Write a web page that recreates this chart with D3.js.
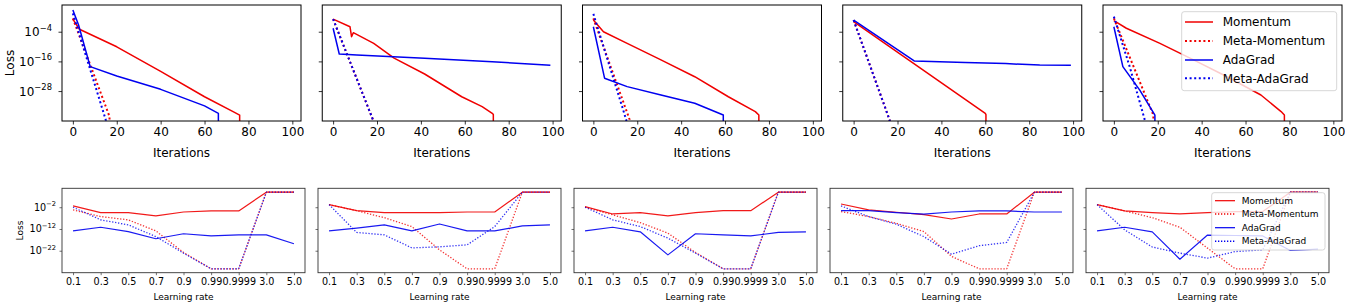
<!DOCTYPE html>
<html><head><meta charset="utf-8">
<script src="https://cdn.jsdelivr.net/npm/d3@7"></script>
<style>
body{margin:0;background:#fff}
svg{display:block}
text{font-family:"DejaVu Sans",sans-serif;fill:#000}
</style>
</head><body>
<svg id="chart" width="1345" height="302"></svg>
<script>
// ---------------- data ----------------
const seriesNames = ["Momentum", "Meta-Momentum", "AdaGrad", "Meta-AdaGrad"];
const iterTicks = [0, 20, 40, 60, 80, 100];
const topLossTicks = [1e-4, 1e-16, 1e-28];
const lrLabels = ["0.1", "0.3", "0.5", "0.7", "0.9", "0.99", "0.9999", "3.0", "5.0"];
const bottomLossTicks = [1e-2, 1e-12, 1e-22];

// top row: [iteration, log10(loss)] per panel; null = loss reached exactly 0
const topMomentum = [
  [[0,1.1],[3,-3.0],[20,-10.1],[40,-20.0],[60,-30.3],[73,-36.3],[76,-37.7],[76,null]],
  [[0,1.1],[7.7,-2.0],[8.4,-6.0],[9.2,-4.4],[18.5,-8.7],[27.8,-14.7],[41.7,-21.1],[58.6,-30.3],[67.9,-34.3],[72.5,-37.0],[73,-37.5],[73,null]],
  [[0,0.7],[4.6,-4.0],[15.4,-8.7],[30.8,-15.4],[46.2,-22.2],[61.5,-30.3],[73.8,-36.3],[75.4,-37.7],[75.4,null]],
  [[0,0.05],[60,-37.0],[60.3,-37.5],[60.3,null]],
  [[0,0.45],[5.7,-2.6],[21,-8.7],[36.3,-15.4],[51.6,-22.2],[67,-29.6],[76.2,-36.3],[77.7,-37.7],[77.7,null]]
];
const topMetaMomentum = [
  [[0,1.4],[16.7,-38.3],[16.7,null]],
  [[0,1.1],[18.2,-39.7],[18.2,null]],
  [[0,1.4],[16.5,-39.5],[16.5,null]],
  [[0,0.7],[16.4,-39.7],[16.4,null]],
  [[0,1.4],[18,-37.7],[18,null]]
];
const topAdaGrad = [
  [[0,4.77],[2.6,-1.3],[7.9,-18.1],[20,-21.9],[40,-27.3],[60,-34.0],[66.3,-37.0],[66.3,null]],
  [[0,-2.6],[2.8,-13.0],[10.8,-13.4],[41.7,-14.7],[72.5,-16.1],[99,-17.6]],
  [[0,-2.0],[5.1,-22.8],[15.4,-26.2],[30.8,-29.6],[46.2,-32.9],[59.2,-37.7],[59.2,null]],
  [[0,0.7],[27.6,-15.8],[50.8,-16.4],[69.3,-16.9],[84.8,-17.5],[99,-17.6]],
  [[0,-2.0],[4.1,-18.1],[11.8,-27.6],[18.7,-37.7],[18.7,null]]
];
const topMetaAdaGrad = [
  [[0,3.4],[15,-39.7],[15,null]],
  [[0,1.1],[18.2,-39.7],[18.2,null]],
  [[0,3.2],[15,-39.7],[15,null]],
  [[0,0.7],[16.4,-39.7],[16.4,null]],
  [[0,2.1],[7.2,-18.1],[14.1,-39.7],[14.1,null]]
];

// bottom row: log10(loss) for each learning rate, per panel
const lrMomentum = [
  [-1.4,-4.5,-4.5,-6.0,-4.2,-3.7,-3.7,4.9,4.9],
  [-0.8,-3.6,-4.5,-4.5,-4.5,-4.2,-4.2,4.9,4.9],
  [-1.7,-5.1,-4.5,-6.0,-4.5,-3.6,-3.6,4.9,4.9],
  [-0.5,-3.2,-4.3,-5.4,-7.4,-5.1,-5.1,4.9,4.9],
  [-0.8,-3.7,-4.5,-5.1,-4.5,-4.0,-4.0,4.9,4.9]
];
const lrMetaMomentum = [
  [-3.2,-6.3,-7.8,-12.9,-22.8,-30.3,-30.3,4.9,4.9],
  [-0.8,-3.6,-6.8,-10.9,-21.6,-30.3,-30.3,4.9,4.9],
  [-2.0,-5.5,-9.1,-13.9,-22.8,-30.3,-30.3,4.9,4.9],
  [-4.0,-6.3,-9.4,-13.2,-24.6,-30.3,-30.3,4.9,4.9],
  [-0.8,-3.7,-6.8,-11.2,-20.8,-30.3,-30.3,4.9,4.9]
];
const lrAdaGrad = [
  [-12.9,-11.2,-13.2,-16.5,-14.2,-15.2,-14.7,-14.7,-18.8],
  [-12.9,-11.6,-10.1,-12.9,-9.7,-12.9,-12.9,-10.6,-10.1],
  [-12.9,-11.2,-13.3,-23.9,-14.2,-14.7,-15.2,-13.6,-13.3],
  [-3.6,-3.6,-4.5,-5.2,-4.2,-3.7,-3.7,-4.2,-4.2],
  [-12.9,-11.2,-13.3,-25.9,-14.8,-15.0,-15.2,-21.9,-21.3]
];
const lrMetaAdaGrad = [
  [-2.0,-7.8,-10.1,-15.5,-23.1,-30.3,-30.3,4.9,4.9],
  [-0.8,-13.6,-14.7,-20.7,-20.2,-19.3,-10.9,4.9,4.9],
  [-2.0,-7.8,-10.9,-16.2,-23.1,-30.3,-30.3,4.9,4.9],
  [-1.4,-6.3,-9.8,-15.5,-23.6,-19.7,-18.2,4.9,4.9],
  [-0.8,-12.4,-20.3,-23.1,-25.4,-22.4,-21.6,4.9,4.9]
];

// ---------------- drawing ----------------
const svg = d3.select("#chart");
const RED = "#f00000", BLUE = "#0000f0";
const styles = [
  {color: RED, dash: null},
  {color: RED, dash: "dot"},
  {color: BLUE, dash: null},
  {color: BLUE, dash: "dot"}
];

const TOP = {y0: 5, y1: 121, w: 239, lefts: [62, 322.25, 582.5, 842.75, 1103], fs: 12};
const BOT = {y0: 188.3, y1: 272.7, w: 243, lefts: [62, 318, 574, 830, 1086], fs: 9, tfs: 9.6};

const topY = d3.scaleLog().domain([Math.pow(10, -40.1), Math.pow(10, 6.8)]).range([TOP.y1, TOP.y0]);
const botY = d3.scaleLog().domain([Math.pow(10, -32.1), Math.pow(10, 6.7)]).range([BOT.y1, BOT.y0]);

function powLabel(g, x, y, exp, fs) {
  const t = g.append("text").attr("x", x).attr("y", y).attr("text-anchor", "end")
    .style("font-size", fs + "px");
  t.append("tspan").text("10");
  t.append("tspan").attr("dy", -fs * 0.45).style("font-size", (fs * 0.7) + "px").text("\u2212" + exp);
}

function drawTop(i) {
  const left = TOP.lefts[i];
  const x = d3.scaleLinear().domain([-4.95, 103.95]).range([left, left + TOP.w]);
  const g = svg.append("g");
  const cid = "clipT" + i;
  svg.append("clipPath").attr("id", cid).append("rect")
    .attr("x", left).attr("y", TOP.y0).attr("width", TOP.w).attr("height", TOP.y1 - TOP.y0);
  const data = [topMomentum[i], topMetaMomentum[i], topAdaGrad[i], topMetaAdaGrad[i]];
  const line = d3.line().x(d => x(d[0])).y(d => d[1] === null ? TOP.y1 + 40 : topY(Math.pow(10, d[1])));
  const lg = g.append("g").attr("clip-path", "url(#" + cid + ")");
  data.forEach((s, k) => {
    lg.append("path").attr("d", line(s)).attr("fill", "none")
      .attr("stroke", styles[k].color).attr("stroke-width", styles[k].dash ? 2 : 1.5)
      .attr("stroke-dasharray", styles[k].dash ? "2,2.6" : null)
      .attr("stroke-linejoin", "round");
  });
  const xa = g.append("g").attr("transform", `translate(0,${TOP.y1})`)
    .call(d3.axisBottom(x).tickValues(iterTicks).tickSize(3.5).tickPadding(3).tickFormat(d3.format("d")));
  xa.select(".domain").remove();
  xa.selectAll("text").style("font-size", TOP.fs + "px").style("font-family", "DejaVu Sans");
  xa.selectAll("line").attr("stroke", "#000").attr("stroke-width", 0.8);
  g.append("text").attr("x", left + TOP.w / 2).attr("y", 157).attr("text-anchor", "middle")
    .style("font-size", TOP.fs + "px").text("Iterations");
  const ya = g.append("g").attr("transform", `translate(${left},0)`)
    .call(d3.axisLeft(topY).tickValues(topLossTicks).tickSize(3.5).tickFormat(""));
  ya.select(".domain").remove();
  ya.selectAll("line").attr("stroke", "#000").attr("stroke-width", 0.8);
  if (i === 0) {
    topLossTicks.forEach(v => powLabel(g, left - 10, topY(v) + 4.5, Math.round(-Math.log10(v)), TOP.fs));
    g.append("text").attr("transform", `translate(10,${(TOP.y0 + TOP.y1) / 2}) rotate(-90)`)
      .attr("text-anchor", "middle").attr("dy", "0.35em").style("font-size", TOP.fs + "px").text("Loss");
  }
  g.append("rect").attr("x", left).attr("y", TOP.y0).attr("width", TOP.w).attr("height", TOP.y1 - TOP.y0)
    .attr("fill", "none").attr("stroke", "#000").attr("stroke-width", 1);
}

function drawBottom(i) {
  const left = BOT.lefts[i];
  const x = d3.scaleLinear().domain([-0.4, 8.4]).range([left, left + BOT.w]);
  const g = svg.append("g");
  const cid = "clipB" + i;
  svg.append("clipPath").attr("id", cid).append("rect")
    .attr("x", left).attr("y", BOT.y0).attr("width", BOT.w).attr("height", BOT.y1 - BOT.y0);
  const data = [lrMomentum[i], lrMetaMomentum[i], lrAdaGrad[i], lrMetaAdaGrad[i]];
  const line = d3.line().x((d, j) => x(j)).y(d => botY(Math.pow(10, d)));
  const lg = g.append("g").attr("clip-path", "url(#" + cid + ")");
  data.forEach((s, k) => {
    lg.append("path").attr("d", line(s)).attr("fill", "none")
      .attr("stroke", styles[k].color).attr("stroke-width", styles[k].dash ? 1.3 : 1.2)
      .attr("stroke-opacity", styles[k].dash ? 0.8 : 0.9)
      .attr("stroke-dasharray", styles[k].dash ? "1.3,1.7" : null)
      .attr("stroke-linejoin", "round");
  });
  const xa = g.append("g").attr("transform", `translate(0,${BOT.y1})`)
    .call(d3.axisBottom(x).tickValues(d3.range(lrLabels.length)).tickSize(2.5).tickPadding(2.5)
      .tickFormat(j => lrLabels[j]));
  xa.select(".domain").remove();
  xa.selectAll("text").style("font-size", BOT.tfs + "px").style("font-family", "DejaVu Sans").attr("fill", "#222");
  xa.selectAll("line").attr("stroke", "#333").attr("stroke-width", 0.7);
  g.append("text").attr("x", left + BOT.w / 2).attr("y", 299.5).attr("text-anchor", "middle")
    .style("font-size", BOT.fs + "px").attr("fill", "#222").text("Learning rate");
  const ya = g.append("g").attr("transform", `translate(${left},0)`)
    .call(d3.axisLeft(botY).tickValues(bottomLossTicks).tickSize(2.5).tickFormat(""));
  ya.select(".domain").remove();
  ya.selectAll("line").attr("stroke", "#333").attr("stroke-width", 0.7);
  if (i === 0) {
    bottomLossTicks.forEach(v => powLabel(g, left - 6, botY(v) + 3.5, Math.round(-Math.log10(v)), BOT.tfs));
    g.append("text").attr("transform", `translate(20,${(BOT.y0 + BOT.y1) / 2}) rotate(-90)`)
      .attr("text-anchor", "middle").attr("dy", "0.35em").style("font-size", BOT.fs + "px").attr("fill", "#222").text("Loss");
  }
  g.append("rect").attr("x", left).attr("y", BOT.y0).attr("width", BOT.w).attr("height", BOT.y1 - BOT.y0)
    .attr("fill", "none").attr("stroke", "#333").attr("stroke-width", 0.9);
}

function legend(x0, y0, w, h, rows, lineX0, lineX1, textX, fs, lw, dash) {
  const g = svg.append("g");
  g.append("rect").attr("x", x0).attr("y", y0).attr("width", w).attr("height", h).attr("rx", 2.5)
    .attr("fill", "#fff").attr("fill-opacity", 0.8).attr("stroke", "#ccc").attr("stroke-width", 0.8);
  seriesNames.forEach((name, k) => {
    g.append("line").attr("x1", lineX0).attr("x2", lineX1).attr("y1", rows[k]).attr("y2", rows[k])
      .attr("stroke", styles[k].color).attr("stroke-width", styles[k].dash ? lw + 0.4 : lw)
      .attr("stroke-dasharray", styles[k].dash ? dash : null);
    g.append("text").attr("x", textX).attr("y", rows[k]).attr("dy", "0.35em")
      .style("font-size", fs + "px").text(name);
  });
}

for (let i = 0; i < 5; i++) { drawTop(i); drawBottom(i); }
legend(1181.7, 11.7, 155, 79, [22, 41, 60, 78.3], 1185, 1213, 1222.7, 12, 1.5, "2,2.6");
legend(1211.7, 192.7, 113.3, 57.3, [200.7, 214, 227.7, 241.3], 1215, 1235, 1241.7, 9, 1.2, "1.3,1.7");
</script>
</body></html>
